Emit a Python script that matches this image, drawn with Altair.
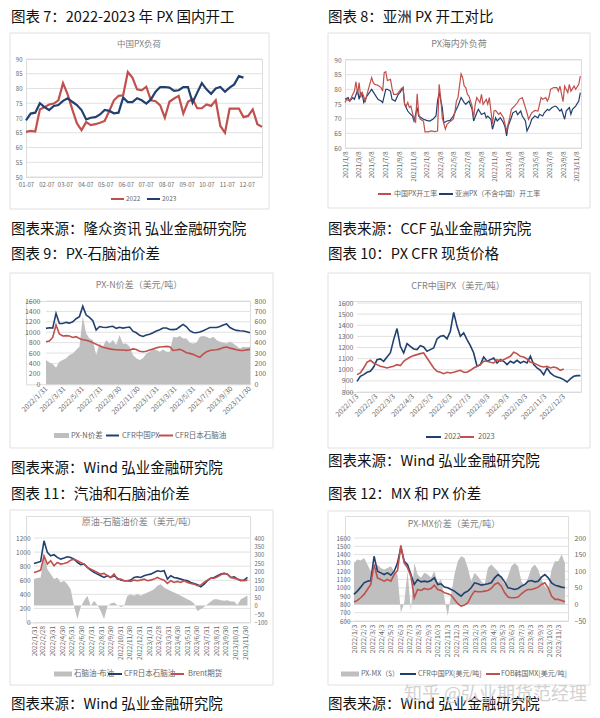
import altair as alt
import numpy as np
import pandas as pd

FONT = "Noto Sans CJK SC"
BLUE = "#21406f"
RED = "#c0504d"
AREA = "#bfbfbf"
GRID = "#d9d9d9"
LBL = "#666666"
HEAD = "#111111"

# ---------------- 图表 7 : weekly load 2022 / 2023 ----------------
p1_start = "2022-01-07"
p1_2022 = [65.3, 65.6, 65.4, 72.9, 73.7, 74.6, 74.9, 76.0, 81.8, 78.0, 72.9, 68.2, 65.9, 68.6, 67.6, 67.9,
           68.4, 69.0, 72.4, 76.0, 77.5, 77.7, 85.6, 83.7, 79.7, 79.4, 80.6, 76.0, 75.7, 74.3, 70.1, 75.5,
           76.6, 77.5, 71.5, 75.5, 76.4, 73.3, 73.3, 74.6, 74.1, 76.0, 67.3, 65.0, 73.2, 73.2, 73.2, 70.3,
           70.7, 72.9, 67.9, 67.0]
p1_2023 = [69.2, 71.5, 71.8, 75.0, 73.7, 72.7, 74.1, 74.4, 75.8, 76.7, 75.5, 74.4, 72.7, 69.5, 70.1, 70.3,
           71.2, 72.7, 72.4, 71.6, 71.8, 76.9, 75.4, 75.4, 76.7, 76.0, 74.9, 76.3, 78.9, 80.5, 80.5, 80.3,
           79.2, 79.4, 80.5, 80.5, 75.2, 78.6, 81.8, 79.7, 78.2, 80.0, 80.5, 78.9, 80.3, 81.4, 84.2, 83.7]

# ---------------- 图表 8 : China vs Asia ----------------
p2_start = "2021-01-08"
p2_red_week = [0, 1, 3, 5, 6, 7, 8, 9, 10, 11, 13, 14, 17, 18, 19, 21, 23, 24, 25, 26, 27, 29, 30, 31, 33, 34,
               36, 37, 38, 39, 40, 41, 42, 43, 44, 45, 46, 47, 48, 50, 51, 53, 55, 57, 59, 60, 61, 62, 64, 65,
               67, 69, 70, 71, 72, 74, 75, 76, 77, 78, 79, 81, 82, 83, 84, 86, 87, 88, 90, 91, 92, 94, 95, 96,
               98, 99, 101, 102, 103, 104, 105, 106, 108, 110, 111, 113, 114, 116, 117, 118, 119, 121, 123,
               124, 125, 126, 128, 129, 130, 131, 133, 135, 136, 137, 139, 140, 142, 143, 144, 146, 147, 149, 150]
p2_red = [75.5, 76.6, 76.0, 78.3, 79.4, 82.6, 78.3, 82.3, 77.2, 78.9, 76.0, 78.3, 84.0, 82.3, 81.7, 81.4, 80.6,
          79.4, 85.7, 86.0, 83.0, 83.4, 80.3, 78.3, 78.3, 78.9, 80.3, 80.6, 74.9, 74.3, 75.5, 73.8, 74.3, 72.0,
          69.8, 68.9, 78.5, 71.5, 69.8, 69.2, 65.5, 65.5, 65.8, 65.6, 65.8, 81.7, 77.2, 70.3, 66.4, 68.1, 69.0,
          69.8, 72.0, 76.0, 77.2, 85.3, 84.0, 81.1, 80.6, 78.3, 77.7, 74.3, 70.3, 74.9, 77.2, 75.5, 78.3, 74.9,
          76.6, 74.9, 77.2, 68.1, 72.6, 72.8, 71.5, 72.0, 70.3, 68.1, 65.8, 68.1, 70.3, 73.2, 74.3, 75.5, 76.6,
          77.2, 75.5, 72.0, 69.8, 70.9, 72.0, 72.8, 72.6, 74.9, 77.2, 76.6, 77.2, 76.0, 77.2, 80.0, 80.6, 80.6,
          79.4, 81.1, 75.8, 81.1, 78.9, 81.7, 79.4, 81.1, 80.0, 81.7, 84.5]
p2_blue_week = [0, 2, 3, 5, 6, 8, 9, 10, 11, 12, 14, 16, 17, 19, 21, 23, 24, 26, 27, 29, 30, 32, 34, 35, 37, 38,
                40, 41, 43, 44, 46, 47, 50, 52, 54, 56, 58, 59, 60, 62, 63, 65, 67, 69, 71, 72, 74, 76, 77, 79,
                81, 82, 84, 85, 87, 89, 90, 91, 93, 94, 96, 97, 99, 101, 102, 103, 104, 106, 107, 109, 110, 112,
                113, 115, 116, 118, 119, 121, 123, 124, 126, 127, 129, 130, 132, 134, 135, 137, 138, 140, 141,
                143, 144, 145, 147, 149, 150]
p2_blue = [76.6, 77.2, 76.0, 77.2, 76.6, 79.7, 76.6, 78.9, 78.3, 75.5, 77.7, 79.2, 80.0, 78.3, 76.6, 76.0, 75.5,
           80.0, 80.0, 79.4, 76.6, 76.0, 78.3, 78.9, 80.6, 74.9, 72.6, 72.0, 70.9, 69.2, 73.8, 70.9, 69.8, 69.4,
           69.2, 69.8, 70.9, 76.0, 78.9, 73.8, 68.6, 69.2, 69.4, 70.9, 73.2, 74.3, 77.2, 75.5, 74.9, 76.0, 73.2,
           69.2, 72.0, 73.2, 71.4, 72.0, 70.3, 70.9, 69.8, 66.4, 70.3, 69.2, 70.3, 68.6, 67.2, 64.1, 67.5, 70.3,
           72.0, 72.6, 71.4, 72.6, 70.9, 69.2, 65.8, 68.1, 69.8, 70.9, 70.3, 71.5, 70.9, 72.0, 73.2, 72.8, 73.8,
           74.3, 74.0, 72.6, 73.2, 69.8, 72.6, 73.8, 71.5, 73.2, 74.3, 76.0, 78.9]

# ---------------- 图表 9 : PX - naphtha ----------------
p3_span = ("2022-01-31", "2023-12-01")
p3_px = [1074, 1086, 1080, 1361, 1170, 1169, 1190, 1175, 1201, 1260, 1300, 1500, 1330, 1284, 1220, 1042, 1110,
         1095, 1090, 1105, 1115, 1074, 1095, 1080, 1090, 1100, 1020, 990, 940, 920, 946, 962, 990, 1025, 1048,
         1080, 1080, 1054, 1050, 1060, 1105, 1150, 1105, 1030, 995, 990, 1005, 1030, 1060, 1090, 1090, 1090,
         1110, 1140, 1160, 1090, 1058, 1035, 1029, 1025, 1010, 990]
p3_naphtha = [818, 831, 900, 1140, 965, 927, 935, 927, 900, 915, 880, 855, 845, 828, 800, 770, 738, 712, 697,
              680, 671, 665, 658, 658, 652, 660, 680, 668, 636, 626, 635, 658, 680, 700, 715, 722, 728, 722, 650,
              658, 671, 645, 607, 594, 575, 543, 518, 580, 625, 650, 658, 665, 680, 705, 715, 695, 680, 665, 652,
              650, 662, 671]
p3_spread = [233, 210, 195, 160, 217, 233, 249, 281, 297, 329, 361, 650, 490, 441, 425, 281, 393, 361, 425, 393,
             425, 377, 473, 390, 393, 361, 281, 249, 233, 249, 297, 313, 345, 329, 313, 335, 313, 313, 455, 450,
             463, 441, 441, 399, 393, 399, 457, 463, 457, 441, 457, 425, 409, 399, 393, 409, 393, 367, 345, 361,
             355, 361]

# ---------------- 图表 10 : CFR China PX ----------------
p4_span = ("2022-01-03", "2022-12-30")
p4_2022 = [896, 941, 956, 977, 986, 1025, 1091, 1097, 1076, 1115, 1151, 1271, 1370, 1211, 1151, 1235, 1211, 1187,
           1181, 1217, 1205, 1166, 1181, 1196, 1277, 1301, 1307, 1277, 1346, 1516, 1390, 1301, 1331, 1271, 1217,
           1151, 1031, 1046, 1115, 1076, 1091, 1106, 1061, 1091, 1076, 1046, 1076, 1061, 1085, 1061, 1076, 1061,
           1121, 1046, 1016, 995, 956, 1016, 971, 947, 935, 926, 911, 890, 917, 941, 947, 947]
p4_2023 = [956, 971, 1016, 1067, 1085, 1061, 1046, 1031, 1025, 1016, 1025, 1031, 1046, 1037, 1076, 1097, 1115,
           1127, 1136, 1145, 1151, 1106, 1061, 1016, 986, 977, 965, 977, 971, 977, 986, 995, 977, 977, 995, 1016,
           1031, 1046, 1076, 1076, 1067, 1061, 1091, 1076, 1091, 1106, 1121, 1157, 1145, 1121, 1115, 1097, 1067,
           1061, 1046, 1031, 1025, 1031, 1016, 1025, 1016, 995, 1007]

# ---------------- 图表 11 : naphtha - Brent ----------------
p5_span = ("2022-01-31", "2023-12-07")
p5_naphtha = [839, 853, 867, 1160, 995, 948, 962, 924, 900, 915, 934, 924, 900, 853, 820, 830, 782, 744, 711, 687,
              664, 640, 664, 640, 664, 630, 602, 593, 593, 602, 640, 649, 640, 664, 678, 687, 711, 735, 725, 735,
              616, 664, 640, 630, 616, 602, 593, 569, 555, 536, 507, 545, 593, 630, 640, 664, 687, 697, 687, 640,
              649, 616, 593, 602, 640]
p5_brent = [711, 725, 744, 945, 830, 877, 806, 853, 830, 839, 853, 886, 900, 877, 853, 830, 782, 758, 735, 711,
            687, 697, 664, 640, 687, 616, 616, 593, 593, 583, 602, 593, 602, 616, 593, 602, 616, 640, 616, 602,
            555, 593, 569, 583, 569, 593, 569, 555, 545, 522, 531, 569, 602, 630, 630, 649, 678, 697, 687, 640,
            630, 616, 602, 593, 602]
p5_spread = [157, 163, 167, 295, 216, 187, 157, 167, 137, 147, 127, 97, -2, -80, -8, 28, 58, -2, 28, 4, -32, -80,
             -5, 12, 18, 4, -8, -2, 58, 65, 58, 68, 58, 68, 78, 87, 97, 117, 127, 107, 97, 87, 78, 68, 58, 48, 38,
             28, 12, -32, -20, -8, 8, 24, 38, 38, 32, 28, 32, 24, 24, 4, 38, 48, 60]

# ---------------- 图表 12 : PX - MX ----------------
p6_span = ("2022-01-03", "2023-11-23")
p6_px = [920, 960, 1008, 1060, 1080, 1088, 1380, 1200, 1180, 1160, 1180, 1152, 1200, 1300, 1490, 1320, 1280, 1160,
         1040, 1100, 1072, 1080, 1072, 1088, 1120, 1040, 1048, 1008, 1000, 980, 960, 928, 900, 940, 960, 1000,
         1060, 1048, 1032, 1040, 1048, 1060, 1120, 1160, 1128, 1072, 1000, 992, 980, 992, 1020, 1040, 1080, 1088,
         1072, 1080, 1128, 1160, 1120, 1060, 1032, 1020, 1008, 1000]
p6_mx = [828, 848, 880, 920, 980, 1040, 1280, 1120, 1100, 1080, 1100, 1080, 1160, 1208, 1512, 1300, 1240, 1140,
         880, 980, 968, 992, 980, 992, 1032, 980, 968, 940, 928, 912, 860, 808, 780, 792, 820, 900, 960, 952, 952,
         960, 968, 992, 1040, 1060, 1020, 940, 888, 880, 880, 888, 928, 960, 980, 980, 992, 1008, 1040, 1060, 1000,
         900, 860, 860, 848, 832]
p6_spread = [125, 135, 132, 140, 120, 100, 100, 120, 110, 105, 110, 115, 100, 90, -25, 5, 100, -20, 125, 90, 80,
             95, 90, 80, 100, 65, 75, 20, -35, 30, 90, 130, 145, 140, 110, 70, 95, 85, 70, 60, 110, 120, 110, 100,
             80, 60, 85, 115, 125, 115, 70, 55, 80, 110, 120, 105, 75, 55, 45, 105, 130, 130, 150, 125]

ONE = pd.DataFrame({"k": [0]})


def dt(s):
    t = pd.Timestamp(s)
    return alt.DateTime(year=int(t.year), month=int(t.month), date=int(t.day))


def frame_df(dates, values):
    return pd.DataFrame({"date": pd.to_datetime(dates), "v": values})


class Panel:
    def __init__(self, L, T, plot):
        self.L, self.T = L, T
        px, py, pw, ph = plot
        self.ix, self.iy, self.pw, self.ph = px - L, py - T, pw, ph
        self.W, self.H = self.ix + pw, self.iy + ph
        self.layers = []

    def X(self, v):
        return v - self.L

    def Y(self, v):
        return v - self.T

    def xs(self, a, b):
        return alt.Scale(domain=[dt(a), dt(b)], range=[self.ix, self.ix + self.pw])

    def ys(self, lo, hi):
        return alt.Scale(domain=[lo, hi], range=[self.iy + self.ph, self.iy], zero=False, nice=False)

    def box(self, x1, y1, x2, y2):
        self.layers.append(alt.Chart(ONE).mark_rect(fill="transparent", stroke="#d9d9d9", strokeWidth=0.8).encode(
            x=alt.value(self.X(x1)), x2=alt.value(self.X(x2)), y=alt.value(self.Y(y1)), y2=alt.value(self.Y(y2))))

    def text(self, s, x, y, size, color=LBL, align="left", weight="normal", opacity=1.0):
        self.layers.append(alt.Chart(ONE).mark_text(
            text=s, align=align, baseline="middle", font=FONT, fontSize=size, color=color,
            fontWeight=weight, opacity=opacity).encode(x=alt.value(self.X(x)), y=alt.value(self.Y(y))))

    def grid(self, vals, ysc):
        self.layers.append(alt.Chart(pd.DataFrame({"g": vals})).mark_rule(color=GRID, strokeWidth=0.8).encode(
            y=alt.Y("g:Q", scale=ysc, axis=None),
            x=alt.value(self.ix), x2=alt.value(self.ix + self.pw)))

    def leg_line(self, color, x1, x2, y, label, tx, size=7.5, width=2):
        self.layers.append(alt.Chart(ONE).mark_rule(color=color, strokeWidth=width).encode(
            x=alt.value(self.X(x1)), x2=alt.value(self.X(x2)), y=alt.value(self.Y(y))))
        self.text(label, tx, y, size)

    def leg_box(self, x1, x2, y, label, tx, size=7.5):
        self.layers.append(alt.Chart(ONE).mark_rect(color=AREA).encode(
            x=alt.value(self.X(x1)), x2=alt.value(self.X(x2)),
            y=alt.value(self.Y(y) - 2.5), y2=alt.value(self.Y(y) + 2.5)))
        self.text(label, tx, y, size)

    def line(self, df, xsc, xax, ysc, yax, color, width):
        self.layers.append(alt.Chart(df).mark_line(color=color, strokeWidth=width).encode(
            x=alt.X("date:T", scale=xsc, axis=xax), y=alt.Y("v:Q", scale=ysc, axis=yax)))

    def area(self, df, xsc, xax, ysc, yax, color=AREA):
        self.layers.append(alt.Chart(df).mark_area(color=color, opacity=1).encode(
            x=alt.X("date:T", scale=xsc, axis=xax), y=alt.Y("v:Q", scale=ysc, axis=yax), y2=alt.datum(0)))

    def chart(self):
        return alt.layer(*self.layers).resolve_scale(y="independent").properties(width=self.W, height=self.H)


def yaxis(vals, orient="left", offset=0, pad=4, size=7):
    return alt.Axis(orient=orient, values=vals, offset=offset, labelPadding=pad, ticks=False, domain=False,
                    grid=False, labelFontSize=size, labelColor=LBL, labelFont=FONT, title=None, zindex=2,
                    format="d")


def xaxis(vals, fmt, angle, pad=3, size=7):
    if angle == 0:
        align, base = "center", "top"
    else:
        align, base = "right", "middle"
    return alt.Axis(values=[dt(v) for v in vals], format=fmt, labelAngle=angle, labelAlign=align,
                    labelBaseline=base, labelPadding=pad, ticks=False, domain=False, grid=False,
                    labelFontSize=size, labelColor=LBL, labelFont=FONT, labelOverlap=False,
                    labelFlush=False, title=None, zindex=2)


SRC_WIND = "图表来源：Wind  弘业金融研究院"

# ---------------- panel 1 ----------------
p = Panel(25, 58, (25, 58, 236, 118))
p.layers.append(alt.Chart(ONE).mark_rect(color="white").encode(
    x=alt.value(p.X(8)), x2=alt.value(p.X(9)), y=alt.value(p.Y(8)), y2=alt.value(p.Y(9))))
p.box(9, 32, 268, 208)
d1 = pd.date_range(p1_start, periods=len(p1_2022), freq="7D")
xs1 = p.xs(d1[0], d1[-1])
xa1 = xaxis(pd.date_range("2022-01-07", periods=12, freq=pd.DateOffset(months=1)), "%m-%d", 0, pad=4, size=6)
ys1 = p.ys(50, 90)
p.grid(list(range(50, 91, 5)), ys1)
p.line(frame_df(d1, p1_2022), xs1, xa1, ys1, yaxis(list(range(50, 91, 5)), size=6), RED, 2.2)
p.line(frame_df(d1[:len(p1_2023)], p1_2023), xs1, xa1, ys1, None, BLUE, 2.2)
p.text("图表 7：2022-2023 年 PX 国内开工", 10, 17, 14.5, HEAD)
p.text("中国PX负荷", 138, 43, 8.5, "#7f7f7f", align="center")
p.leg_line(RED, 110, 123, 198, "2022", 125, size=6.5)
p.leg_line(BLUE, 146, 159, 198, "2023", 161, size=6.5)
p.text("图表来源：隆众资讯  弘业金融研究院", 10, 228.5, 14.5, HEAD)
c1 = p.chart()

# ---------------- panel 2 ----------------
p = Panel(344, 58, (344, 59, 236, 88))
p.box(327, 32, 589, 207)
base2 = pd.Timestamp(p2_start)
d2r = base2 + pd.to_timedelta(np.array(p2_red_week) * 7, unit="D")
d2b = base2 + pd.to_timedelta(np.array(p2_blue_week) * 7, unit="D")
xs2 = p.xs("2021-01-08", "2023-11-27")
xa2 = xaxis([f"{y}-{m:02d}-08" for y in (2021, 2022, 2023) for m in (1, 3, 5, 7, 9, 11)],
            "%Y/%-m/%-d", -90, pad=3, size=6.5)
ys2 = p.ys(60, 90)
p.grid(list(range(60, 91, 5)), ys2)
p.line(frame_df(d2b, p2_blue), xs2, xa2, ys2, yaxis(list(range(60, 91, 5)), size=6.5), BLUE, 1.2)
p.line(frame_df(d2r, p2_red), xs2, xa2, ys2, None, RED, 1.2)
p.text("图表 8：亚洲 PX 开工对比", 327, 17, 14.5, HEAD)
p.text("PX海内外负荷", 458, 43, 9, "#7f7f7f", align="center")
p.leg_line(RED, 377, 390, 193, "中国PX开工率", 393, size=7)
p.leg_line(BLUE, 438, 452, 193, "亚洲PX（不含中国）开工率", 454, size=7)
p.text("图表来源：CCF  弘业金融研究院", 327, 228.5, 14.5, HEAD)
c2 = p.chart()

# ---------------- panel 3 ----------------
p = Panel(25, 300, (45, 300, 204, 83.3))
p.box(9, 272, 272, 447)
d3 = pd.date_range(p3_span[0], p3_span[1], periods=len(p3_px))
xs3 = p.xs(*p3_span)
xa3 = xaxis(["2022-01-31", "2022-03-31", "2022-05-31", "2022-07-31", "2022-09-30", "2022-11-30",
             "2023-01-31", "2023-03-31", "2023-05-31", "2023-07-31", "2023-09-30", "2023-11-30"],
            "%Y/%-m/%-d", -45, pad=3, size=7)
ys3 = p.ys(0, 1600)
ys3r = p.ys(0, 800)
p.grid(list(range(0, 1601, 200)), ys3)
p.area(frame_df(d3, p3_spread), xs3, xa3, ys3r, yaxis(list(range(0, 801, 100)), "right", 0, 4))
p.line(frame_df(d3, p3_px), xs3, xa3, ys3, yaxis(list(range(0, 1601, 200)), "left", -p.ix, 6), BLUE, 1.6)
p.line(frame_df(d3, p3_naphtha), xs3, xa3, ys3, None, RED, 1.6)
p.text("图表 9：PX-石脑油价差", 10, 254, 14.5, HEAD)
p.text("PX-N价差（美元/吨）", 138, 283.5, 9, "#7f7f7f", align="center")
p.leg_box(53, 68, 434.5, "PX-N价差", 70)
p.leg_line(BLUE, 105, 118, 434.5, "CFR中国PX", 121)
p.leg_line(RED, 158, 172, 434.5, "CFR日本石脑油", 174)
p.text(SRC_WIND, 10, 468, 14.5, HEAD)
c3 = p.chart()

# ---------------- panel 4 ----------------
p = Panel(344, 300, (356, 302, 224, 89))
p.box(327, 272, 589, 447)
d4 = pd.date_range(p4_span[0], p4_span[1], periods=len(p4_2022))
xs4 = p.xs("2022-01-03", "2022-12-31")
xa4 = xaxis([f"2022-{m:02d}-03" for m in range(1, 13)], "%Y/%-m/%-d", -45, pad=3, size=7)
ys4 = p.ys(800, 1600)
p.grid(list(range(800, 1601, 100)), ys4)
p.line(frame_df(d4, p4_2022), xs4, xa4, ys4, yaxis(list(range(800, 1601, 100)), "left", -p.ix, 4), BLUE, 1.6)
p.line(frame_df(d4[:len(p4_2023)], p4_2023), xs4, xa4, ys4, None, RED, 1.6)
p.text("图表 10：PX CFR 现货价格", 327, 254, 14.5, HEAD)
p.text("CFR中国PX（美元/吨）", 457, 285, 9, "#7f7f7f", align="center")
p.leg_line(BLUE, 425, 440, 436, "2022", 443)
p.leg_line(RED, 459, 473, 436, "2023", 477)
p.text(SRC_WIND, 327, 460.5, 14.5, HEAD)
c4 = p.chart()

# ---------------- panel 5 ----------------
p = Panel(25, 515, (33, 537, 216, 84.5))
p.box(9, 509, 272, 684)
d5 = pd.date_range(p5_span[0], p5_span[1], periods=len(p5_naphtha))
xs5 = p.xs("2022-01-31", "2023-12-15")
xa5 = xaxis(list(pd.date_range("2022-01-31", "2023-11-30", freq=pd.offsets.MonthEnd())),
            "%Y/%-m/%-d", -90, pad=3, size=6.5)
ys5 = p.ys(0, 1200)
ys5r = p.ys(-100, 400)
p.grid(list(range(0, 1201, 200)), ys5)
p.area(frame_df(d5, p5_spread), xs5, xa5, ys5r, yaxis(list(range(-100, 401, 50)), "right", 0, 4, size=5.8))
p.line(frame_df(d5, p5_naphtha), xs5, xa5, ys5, yaxis(list(range(0, 1201, 200)), "left", -p.ix, 4, size=6.5),
       BLUE, 1.6)
p.line(frame_df(d5, p5_brent), xs5, xa5, ys5, None, RED, 1.6)
p.text("图表 11：汽油和石脑油价差", 10, 493.5, 14.5, HEAD)
p.text("原油-石脑油价差（美元/吨）", 138, 521, 9, "#7f7f7f", align="center")
p.leg_box(53, 71, 673, "石脑油-布油", 73)
p.leg_line(BLUE, 107, 121, 673, "CFR日本石脑油", 123)
p.leg_line(RED, 170, 183, 673, "Brent期货", 187)
p.text(SRC_WIND, 10, 703.5, 14.5, HEAD)
c5 = p.chart()

# ---------------- panel 6 ----------------
p = Panel(344, 515, (353, 537, 214, 83))
p.box(327, 510, 589, 684)
d6 = pd.date_range(p6_span[0], p6_span[1], periods=len(p6_px))
xs6 = p.xs("2022-01-03", "2023-12-03")
xa6 = xaxis([f"{y}-{m:02d}-03" for y in (2022, 2023) for m in range(1, 13)][:23], "%Y/%-m/%-d", -90, pad=3, size=7)
ys6 = p.ys(600, 1600)
ys6r = p.ys(-50, 200)
p.grid(list(range(600, 1601, 100)), ys6)
p.area(frame_df(d6, p6_spread), xs6, xa6, ys6r, yaxis(list(range(-50, 201, 50)), "right", 0, 6))
p.line(frame_df(d6, p6_px), xs6, xa6, ys6, yaxis(list(range(600, 1601, 100)), "left", -p.ix, 4, size=6.3),
       BLUE, 1.6)
p.line(frame_df(d6, p6_mx), xs6, xa6, ys6, None, RED, 1.6)
p.text("图表 12：MX 和 PX 价差", 327, 493.5, 14.5, HEAD)
p.text("PX-MX价差（美元/吨）", 453, 523, 9, "#7f7f7f", align="center")
p.leg_box(340, 358, 673, "PX-MX（$）", 360, size=7)
p.leg_line(BLUE, 399, 415, 673, "CFR中国PX[美元/吨]", 417, size=7)
p.leg_line(RED, 485, 499, 673, "FOB韩国MX[美元/吨]", 500, size=7)
p.text(SRC_WIND, 327, 703.5, 14.5, HEAD)
p.text("知乎 @弘业期货范经理", 403, 693.5, 18, "#c8c8c8", opacity=0.8)
c6 = p.chart()

chart = alt.concat(c1, c2, c3, c4, c5, c6, columns=2, spacing={"row": 124, "column": 83},
                   bounds="flush", align="each").properties(
    padding={"left": 0, "top": 0, "right": 0, "bottom": 0}, background="white"
).configure_view(stroke=None).configure(font=FONT)

chart.save("out.html", embed_options={"renderer": "svg", "actions": False})
